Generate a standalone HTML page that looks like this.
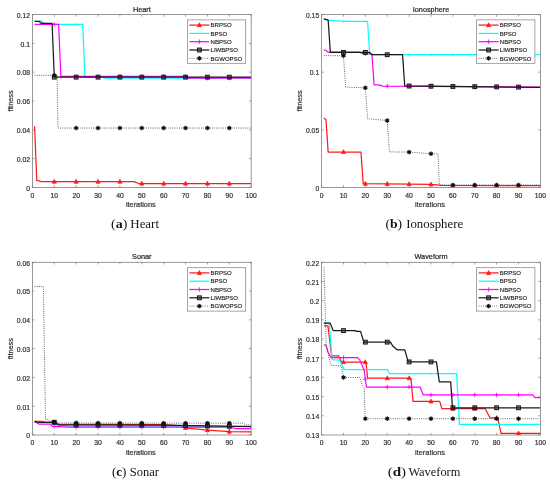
<!DOCTYPE html>
<html><head><meta charset="utf-8"><style>
html,body{margin:0;padding:0;background:#fff;width:550px;height:481px;overflow:hidden}
svg{display:block;will-change:transform}
text{font-family:"Liberation Sans",sans-serif}
.t{fill:#333;stroke:#333;stroke-width:0.2}
.ti{fill:#222;stroke:#222;stroke-width:0.2}
.lb{fill:#333;stroke:#333;stroke-width:0.2}
.lg{fill:#222;stroke:#222;stroke-width:0.15}
.cap{font-family:"Liberation Serif",serif;fill:#151515}
</style></head><body>
<svg width="550" height="481" viewBox="0 0 550 481">
<rect width="550" height="481" fill="#fff"/>
<rect x="32.4" y="14.5" width="218.8" height="172.9" fill="none" stroke="#7f7f7f" stroke-width="0.8"/>
<text class="t" x="32.4" y="197.5" font-size="6.8" text-anchor="middle">0</text>
<text class="t" x="54.28" y="197.5" font-size="6.8" text-anchor="middle">10</text>
<text class="t" x="76.16" y="197.5" font-size="6.8" text-anchor="middle">20</text>
<text class="t" x="98.04" y="197.5" font-size="6.8" text-anchor="middle">30</text>
<text class="t" x="119.92" y="197.5" font-size="6.8" text-anchor="middle">40</text>
<text class="t" x="141.8" y="197.5" font-size="6.8" text-anchor="middle">50</text>
<text class="t" x="163.68" y="197.5" font-size="6.8" text-anchor="middle">60</text>
<text class="t" x="185.56" y="197.5" font-size="6.8" text-anchor="middle">70</text>
<text class="t" x="207.44" y="197.5" font-size="6.8" text-anchor="middle">80</text>
<text class="t" x="229.32" y="197.5" font-size="6.8" text-anchor="middle">90</text>
<text class="t" x="251.2" y="197.5" font-size="6.8" text-anchor="middle">100</text>
<text class="t" x="30" y="190.7" font-size="6.8" text-anchor="end">0</text>
<text class="t" x="30" y="161.88" font-size="6.8" text-anchor="end">0.02</text>
<text class="t" x="30" y="133.07" font-size="6.8" text-anchor="end">0.04</text>
<text class="t" x="30" y="104.25" font-size="6.8" text-anchor="end">0.06</text>
<text class="t" x="30" y="75.43" font-size="6.8" text-anchor="end">0.08</text>
<text class="t" x="30" y="46.62" font-size="6.8" text-anchor="end">0.1</text>
<text class="t" x="30" y="17.8" font-size="6.8" text-anchor="end">0.12</text>
<path d="M32.4 187.4V185.2M32.4 14.5V16.7M54.28 187.4V185.2M54.28 14.5V16.7M76.16 187.4V185.2M76.16 14.5V16.7M98.04 187.4V185.2M98.04 14.5V16.7M119.92 187.4V185.2M119.92 14.5V16.7M141.8 187.4V185.2M141.8 14.5V16.7M163.68 187.4V185.2M163.68 14.5V16.7M185.56 187.4V185.2M185.56 14.5V16.7M207.44 187.4V185.2M207.44 14.5V16.7M229.32 187.4V185.2M229.32 14.5V16.7M251.2 187.4V185.2M251.2 14.5V16.7M32.4 187.4H34.6M251.2 187.4H249M32.4 158.58H34.6M251.2 158.58H249M32.4 129.77H34.6M251.2 129.77H249M32.4 100.95H34.6M251.2 100.95H249M32.4 72.13H34.6M251.2 72.13H249M32.4 43.32H34.6M251.2 43.32H249M32.4 14.5H34.6M251.2 14.5H249" stroke="#7f7f7f" stroke-width="0.7" fill="none"/>
<text class="ti" x="141.8" y="11.5" font-size="7.3" text-anchor="middle">Heart</text>
<text class="lb" x="140.8" y="206.9" font-size="7.35" text-anchor="middle">iterations</text>
<text class="lb" x="12.8" y="100.95" font-size="7.35" text-anchor="middle" transform="rotate(-90 12.8 100.95)">fitness</text>
<clipPath id="clipa"><rect x="32.4" y="14.5" width="218.8" height="172.9"/></clipPath>
<g clip-path="url(#clipa)">
<path d="M34.59 126.31 L36.78 180.34 L38.96 180.77 L41.15 181.64 L134.14 181.64 L138.52 183.51 L251.2 183.51" fill="none" stroke="#ff1a1a" stroke-width="1.25" stroke-linejoin="round"/>
<path d="M54.28 179.34L56.35 183.25L52.21 183.25Z" fill="#ff1a1a" stroke="#ff1a1a" stroke-width="0.7"/>
<path d="M76.16 179.34L78.23 183.25L74.09 183.25Z" fill="#ff1a1a" stroke="#ff1a1a" stroke-width="0.7"/>
<path d="M98.04 179.34L100.11 183.25L95.97 183.25Z" fill="#ff1a1a" stroke="#ff1a1a" stroke-width="0.7"/>
<path d="M119.92 179.34L121.99 183.25L117.85 183.25Z" fill="#ff1a1a" stroke="#ff1a1a" stroke-width="0.7"/>
<path d="M141.8 181.21L143.87 185.12L139.73 185.12Z" fill="#ff1a1a" stroke="#ff1a1a" stroke-width="0.7"/>
<path d="M163.68 181.21L165.75 185.12L161.61 185.12Z" fill="#ff1a1a" stroke="#ff1a1a" stroke-width="0.7"/>
<path d="M185.56 181.21L187.63 185.12L183.49 185.12Z" fill="#ff1a1a" stroke="#ff1a1a" stroke-width="0.7"/>
<path d="M207.44 181.21L209.51 185.12L205.37 185.12Z" fill="#ff1a1a" stroke="#ff1a1a" stroke-width="0.7"/>
<path d="M229.32 181.21L231.39 185.12L227.25 185.12Z" fill="#ff1a1a" stroke="#ff1a1a" stroke-width="0.7"/>
<path d="M34.59 21.27 L38.96 21.27 L41.15 20.84 L43.34 22.42 L45.53 24.44 L82.72 24.44 L84.91 77.18 L102.42 77.18 L104.6 78.18 L251.2 78.18" fill="none" stroke="#00ffff" stroke-width="1.25" stroke-linejoin="round"/>
<circle cx="54.28" cy="24.44" r="0.9" fill="#00ffff"/>
<circle cx="76.16" cy="24.44" r="0.9" fill="#00ffff"/>
<circle cx="98.04" cy="77.18" r="0.9" fill="#00ffff"/>
<circle cx="119.92" cy="78.18" r="0.9" fill="#00ffff"/>
<circle cx="141.8" cy="78.18" r="0.9" fill="#00ffff"/>
<circle cx="163.68" cy="78.18" r="0.9" fill="#00ffff"/>
<circle cx="185.56" cy="78.18" r="0.9" fill="#00ffff"/>
<circle cx="207.44" cy="78.18" r="0.9" fill="#00ffff"/>
<circle cx="229.32" cy="78.18" r="0.9" fill="#00ffff"/>
<path d="M34.59 24.44 L58.66 24.44 L60.84 76.46 L185.56 76.46 L187.75 78.18 L251.2 78.18" fill="none" stroke="#ff00ff" stroke-width="1.25" stroke-linejoin="round"/>
<path d="M54.28 22.24V26.64M52.08 24.44H56.48" stroke="#ff00ff" stroke-width="0.9"/>
<path d="M76.16 74.26V78.66M73.96 76.46H78.36" stroke="#ff00ff" stroke-width="0.9"/>
<path d="M98.04 74.26V78.66M95.84 76.46H100.24" stroke="#ff00ff" stroke-width="0.9"/>
<path d="M119.92 74.26V78.66M117.72 76.46H122.12" stroke="#ff00ff" stroke-width="0.9"/>
<path d="M141.8 74.26V78.66M139.6 76.46H144" stroke="#ff00ff" stroke-width="0.9"/>
<path d="M163.68 74.26V78.66M161.48 76.46H165.88" stroke="#ff00ff" stroke-width="0.9"/>
<path d="M185.56 74.26V78.66M183.36 76.46H187.76" stroke="#ff00ff" stroke-width="0.9"/>
<path d="M207.44 75.98V80.38M205.24 78.18H209.64" stroke="#ff00ff" stroke-width="0.9"/>
<path d="M229.32 75.98V80.38M227.12 78.18H231.52" stroke="#ff00ff" stroke-width="0.9"/>
<path d="M34.59 21.27 L38.96 21.27 L41.15 23.29 L52.09 23.29 L54.28 77.18 L251.2 77.18" fill="none" stroke="#1a1a1a" stroke-width="1.25" stroke-linejoin="round"/>
<rect x="52.38" y="75.28" width="3.8" height="3.8" fill="#000" fill-opacity="0.35" stroke="#1a1a1a" stroke-width="1.05"/>
<rect x="74.26" y="75.28" width="3.8" height="3.8" fill="#000" fill-opacity="0.35" stroke="#1a1a1a" stroke-width="1.05"/>
<rect x="96.14" y="75.28" width="3.8" height="3.8" fill="#000" fill-opacity="0.35" stroke="#1a1a1a" stroke-width="1.05"/>
<rect x="118.02" y="75.28" width="3.8" height="3.8" fill="#000" fill-opacity="0.35" stroke="#1a1a1a" stroke-width="1.05"/>
<rect x="139.9" y="75.28" width="3.8" height="3.8" fill="#000" fill-opacity="0.35" stroke="#1a1a1a" stroke-width="1.05"/>
<rect x="161.78" y="75.28" width="3.8" height="3.8" fill="#000" fill-opacity="0.35" stroke="#1a1a1a" stroke-width="1.05"/>
<rect x="183.66" y="75.28" width="3.8" height="3.8" fill="#000" fill-opacity="0.35" stroke="#1a1a1a" stroke-width="1.05"/>
<rect x="205.54" y="75.28" width="3.8" height="3.8" fill="#000" fill-opacity="0.35" stroke="#1a1a1a" stroke-width="1.05"/>
<rect x="227.42" y="75.28" width="3.8" height="3.8" fill="#000" fill-opacity="0.35" stroke="#1a1a1a" stroke-width="1.05"/>
<path d="M34.59 75.3 L54.28 75.3 L57.12 75.74 L58 128.04 L251.2 128.04" fill="none" stroke="#444" stroke-width="0.9" stroke-linejoin="round" stroke-dasharray="0.9 1.3"/>
<path d="M54.28 73.1 L53.51 73.97 L52.37 74.2 L52.74 75.3 L52.37 76.4 L53.51 76.64 L54.28 77.5 L55.05 76.64 L56.19 76.4 L55.82 75.3 L56.19 74.2 L55.05 73.97Z" fill="#111" stroke="#111" stroke-width="0.5"/>
<path d="M76.16 125.84 L75.39 126.7 L74.25 126.94 L74.62 128.04 L74.25 129.14 L75.39 129.37 L76.16 130.24 L76.93 129.37 L78.07 129.14 L77.7 128.04 L78.07 126.94 L76.93 126.7Z" fill="#111" stroke="#111" stroke-width="0.5"/>
<path d="M98.04 125.84 L97.27 126.7 L96.13 126.94 L96.5 128.04 L96.13 129.14 L97.27 129.37 L98.04 130.24 L98.81 129.37 L99.95 129.14 L99.58 128.04 L99.95 126.94 L98.81 126.7Z" fill="#111" stroke="#111" stroke-width="0.5"/>
<path d="M119.92 125.84 L119.15 126.7 L118.01 126.94 L118.38 128.04 L118.01 129.14 L119.15 129.37 L119.92 130.24 L120.69 129.37 L121.83 129.14 L121.46 128.04 L121.83 126.94 L120.69 126.7Z" fill="#111" stroke="#111" stroke-width="0.5"/>
<path d="M141.8 125.84 L141.03 126.7 L139.89 126.94 L140.26 128.04 L139.89 129.14 L141.03 129.37 L141.8 130.24 L142.57 129.37 L143.71 129.14 L143.34 128.04 L143.71 126.94 L142.57 126.7Z" fill="#111" stroke="#111" stroke-width="0.5"/>
<path d="M163.68 125.84 L162.91 126.7 L161.77 126.94 L162.14 128.04 L161.77 129.14 L162.91 129.37 L163.68 130.24 L164.45 129.37 L165.59 129.14 L165.22 128.04 L165.59 126.94 L164.45 126.7Z" fill="#111" stroke="#111" stroke-width="0.5"/>
<path d="M185.56 125.84 L184.79 126.7 L183.65 126.94 L184.02 128.04 L183.65 129.14 L184.79 129.37 L185.56 130.24 L186.33 129.37 L187.47 129.14 L187.1 128.04 L187.47 126.94 L186.33 126.7Z" fill="#111" stroke="#111" stroke-width="0.5"/>
<path d="M207.44 125.84 L206.67 126.7 L205.53 126.94 L205.9 128.04 L205.53 129.14 L206.67 129.37 L207.44 130.24 L208.21 129.37 L209.35 129.14 L208.98 128.04 L209.35 126.94 L208.21 126.7Z" fill="#111" stroke="#111" stroke-width="0.5"/>
<path d="M229.32 125.84 L228.55 126.7 L227.41 126.94 L227.78 128.04 L227.41 129.14 L228.55 129.37 L229.32 130.24 L230.09 129.37 L231.23 129.14 L230.86 128.04 L231.23 126.94 L230.09 126.7Z" fill="#111" stroke="#111" stroke-width="0.5"/>
</g>
<rect x="187.4" y="19.9" width="58.3" height="43.4" fill="#fff" stroke="#7f7f7f" stroke-width="0.7"/>
<path d="M189.4 25.1H209.4" stroke="#ff1a1a" stroke-width="1.25"/>
<path d="M199.4 22.8L201.47 26.71L197.33 26.71Z" fill="#ff1a1a" stroke="#ff1a1a" stroke-width="0.7"/>
<text class="lg" x="210.6" y="27.3" font-size="6.0" text-anchor="start">BRPSO</text>
<path d="M189.4 33.4H209.4" stroke="#00ffff" stroke-width="1.25"/>
<text class="lg" x="210.6" y="35.6" font-size="6.0" text-anchor="start">BPSO</text>
<path d="M189.4 41.7H209.4" stroke="#ff00ff" stroke-width="1.25"/>
<path d="M199.4 39.5V43.9M197.2 41.7H201.6" stroke="#ff00ff" stroke-width="0.9"/>
<text class="lg" x="210.6" y="43.9" font-size="6.0" text-anchor="start">NBPSO</text>
<path d="M189.4 50H209.4" stroke="#1a1a1a" stroke-width="1.25"/>
<rect x="197.5" y="48.1" width="3.8" height="3.8" fill="#000" fill-opacity="0.35" stroke="#1a1a1a" stroke-width="1.05"/>
<text class="lg" x="210.6" y="52.2" font-size="6.0" text-anchor="start">LIWBPSO</text>
<path d="M189.4 58.3H209.4" stroke="#444" stroke-width="0.8" stroke-dasharray="0.9 1.3"/>
<path d="M199.4 56.1 L198.63 56.97 L197.49 57.2 L197.86 58.3 L197.49 59.4 L198.63 59.63 L199.4 60.5 L200.17 59.63 L201.31 59.4 L200.94 58.3 L201.31 57.2 L200.17 56.97Z" fill="#111" stroke="#111" stroke-width="0.5"/>
<text class="lg" x="210.6" y="60.5" font-size="6.0" text-anchor="start">BGWOPSO</text>
<text class="cap" x="111" y="227.8" font-size="12.8" textLength="16.3" lengthAdjust="spacingAndGlyphs">(<tspan font-weight="bold">a</tspan>)</text>
<text class="cap" x="130.3" y="227.8" font-size="12" textLength="28.7" lengthAdjust="spacingAndGlyphs">Heart</text>
<rect x="321.6" y="14.5" width="218.8" height="172.9" fill="none" stroke="#7f7f7f" stroke-width="0.8"/>
<text class="t" x="321.6" y="197.5" font-size="6.8" text-anchor="middle">0</text>
<text class="t" x="343.48" y="197.5" font-size="6.8" text-anchor="middle">10</text>
<text class="t" x="365.36" y="197.5" font-size="6.8" text-anchor="middle">20</text>
<text class="t" x="387.24" y="197.5" font-size="6.8" text-anchor="middle">30</text>
<text class="t" x="409.12" y="197.5" font-size="6.8" text-anchor="middle">40</text>
<text class="t" x="431" y="197.5" font-size="6.8" text-anchor="middle">50</text>
<text class="t" x="452.88" y="197.5" font-size="6.8" text-anchor="middle">60</text>
<text class="t" x="474.76" y="197.5" font-size="6.8" text-anchor="middle">70</text>
<text class="t" x="496.64" y="197.5" font-size="6.8" text-anchor="middle">80</text>
<text class="t" x="518.52" y="197.5" font-size="6.8" text-anchor="middle">90</text>
<text class="t" x="540.4" y="197.5" font-size="6.8" text-anchor="middle">100</text>
<text class="t" x="319.2" y="190.7" font-size="6.8" text-anchor="end">0</text>
<text class="t" x="319.2" y="133.07" font-size="6.8" text-anchor="end">0.05</text>
<text class="t" x="319.2" y="75.43" font-size="6.8" text-anchor="end">0.1</text>
<text class="t" x="319.2" y="17.8" font-size="6.8" text-anchor="end">0.15</text>
<path d="M321.6 187.4V185.2M321.6 14.5V16.7M343.48 187.4V185.2M343.48 14.5V16.7M365.36 187.4V185.2M365.36 14.5V16.7M387.24 187.4V185.2M387.24 14.5V16.7M409.12 187.4V185.2M409.12 14.5V16.7M431 187.4V185.2M431 14.5V16.7M452.88 187.4V185.2M452.88 14.5V16.7M474.76 187.4V185.2M474.76 14.5V16.7M496.64 187.4V185.2M496.64 14.5V16.7M518.52 187.4V185.2M518.52 14.5V16.7M540.4 187.4V185.2M540.4 14.5V16.7M321.6 187.4H323.8M540.4 187.4H538.2M321.6 129.77H323.8M540.4 129.77H538.2M321.6 72.13H323.8M540.4 72.13H538.2M321.6 14.5H323.8M540.4 14.5H538.2" stroke="#7f7f7f" stroke-width="0.7" fill="none"/>
<text class="ti" x="431" y="11.5" font-size="7.3" text-anchor="middle">Ionosphere</text>
<text class="lb" x="430" y="206.9" font-size="7.35" text-anchor="middle">iterations</text>
<text class="lb" x="302" y="100.95" font-size="7.35" text-anchor="middle" transform="rotate(-90 302 100.95)">fitness</text>
<clipPath id="clipb"><rect x="321.6" y="14.5" width="218.8" height="172.9"/></clipPath>
<g clip-path="url(#clipb)">
<path d="M323.79 118.24 L325.98 119.74 L328.16 152.01 L360.98 152.01 L363.17 183.71 L409.12 184.06 L431 184.29 L441.94 185.44 L540.4 185.56" fill="none" stroke="#ff1a1a" stroke-width="1.25" stroke-linejoin="round"/>
<path d="M343.48 149.71L345.55 153.62L341.41 153.62Z" fill="#ff1a1a" stroke="#ff1a1a" stroke-width="0.7"/>
<path d="M365.36 181.43L367.43 185.34L363.29 185.34Z" fill="#ff1a1a" stroke="#ff1a1a" stroke-width="0.7"/>
<path d="M387.24 181.59L389.31 185.5L385.17 185.5Z" fill="#ff1a1a" stroke="#ff1a1a" stroke-width="0.7"/>
<path d="M409.12 181.76L411.19 185.67L407.05 185.67Z" fill="#ff1a1a" stroke="#ff1a1a" stroke-width="0.7"/>
<path d="M431 181.99L433.07 185.9L428.93 185.9Z" fill="#ff1a1a" stroke="#ff1a1a" stroke-width="0.7"/>
<path d="M452.88 183.15L454.95 187.06L450.81 187.06Z" fill="#ff1a1a" stroke="#ff1a1a" stroke-width="0.7"/>
<path d="M474.76 183.18L476.83 187.09L472.69 187.09Z" fill="#ff1a1a" stroke="#ff1a1a" stroke-width="0.7"/>
<path d="M496.64 183.2L498.71 187.11L494.57 187.11Z" fill="#ff1a1a" stroke="#ff1a1a" stroke-width="0.7"/>
<path d="M518.52 183.23L520.59 187.14L516.45 187.14Z" fill="#ff1a1a" stroke="#ff1a1a" stroke-width="0.7"/>
<path d="M323.79 18.88 L328.16 20.03 L343.48 21.42 L367.55 21.42 L369.74 53.81 L371.92 54.73 L540.4 54.73" fill="none" stroke="#00ffff" stroke-width="1.25" stroke-linejoin="round"/>
<circle cx="343.48" cy="21.42" r="0.9" fill="#00ffff"/>
<circle cx="365.36" cy="21.42" r="0.9" fill="#00ffff"/>
<circle cx="387.24" cy="54.73" r="0.9" fill="#00ffff"/>
<circle cx="409.12" cy="54.73" r="0.9" fill="#00ffff"/>
<circle cx="431" cy="54.73" r="0.9" fill="#00ffff"/>
<circle cx="452.88" cy="54.73" r="0.9" fill="#00ffff"/>
<circle cx="474.76" cy="54.73" r="0.9" fill="#00ffff"/>
<circle cx="496.64" cy="54.73" r="0.9" fill="#00ffff"/>
<circle cx="518.52" cy="54.73" r="0.9" fill="#00ffff"/>
<path d="M323.79 50 L325.98 50.46 L328.16 52.19 L358.8 52.19 L363.17 53.58 L371.92 53.92 L374.11 84.93 L378.49 84.93 L382.86 86.2 L540.4 87" fill="none" stroke="#ff00ff" stroke-width="1.25" stroke-linejoin="round"/>
<path d="M343.48 49.99V54.39M341.28 52.19H345.68" stroke="#ff00ff" stroke-width="0.9"/>
<path d="M365.36 51.46V55.86M363.16 53.66H367.56" stroke="#ff00ff" stroke-width="0.9"/>
<path d="M387.24 84.02V88.42M385.04 86.22H389.44" stroke="#ff00ff" stroke-width="0.9"/>
<path d="M409.12 84.13V88.53M406.92 86.33H411.32" stroke="#ff00ff" stroke-width="0.9"/>
<path d="M431 84.24V88.64M428.8 86.44H433.2" stroke="#ff00ff" stroke-width="0.9"/>
<path d="M452.88 84.35V88.75M450.68 86.55H455.08" stroke="#ff00ff" stroke-width="0.9"/>
<path d="M474.76 84.47V88.87M472.56 86.67H476.96" stroke="#ff00ff" stroke-width="0.9"/>
<path d="M496.64 84.58V88.98M494.44 86.78H498.84" stroke="#ff00ff" stroke-width="0.9"/>
<path d="M518.52 84.69V89.09M516.32 86.89H520.72" stroke="#ff00ff" stroke-width="0.9"/>
<path d="M323.79 18.88 L328.16 20.03 L330.35 52.42 L369.74 52.42 L371.92 54.73 L402.56 54.73 L404.74 85.97 L540.4 87.35" fill="none" stroke="#1a1a1a" stroke-width="1.25" stroke-linejoin="round"/>
<rect x="341.58" y="50.52" width="3.8" height="3.8" fill="#000" fill-opacity="0.35" stroke="#1a1a1a" stroke-width="1.05"/>
<rect x="363.46" y="50.52" width="3.8" height="3.8" fill="#000" fill-opacity="0.35" stroke="#1a1a1a" stroke-width="1.05"/>
<rect x="385.34" y="52.83" width="3.8" height="3.8" fill="#000" fill-opacity="0.35" stroke="#1a1a1a" stroke-width="1.05"/>
<rect x="407.22" y="84.11" width="3.8" height="3.8" fill="#000" fill-opacity="0.35" stroke="#1a1a1a" stroke-width="1.05"/>
<rect x="429.1" y="84.33" width="3.8" height="3.8" fill="#000" fill-opacity="0.35" stroke="#1a1a1a" stroke-width="1.05"/>
<rect x="450.98" y="84.56" width="3.8" height="3.8" fill="#000" fill-opacity="0.35" stroke="#1a1a1a" stroke-width="1.05"/>
<rect x="472.86" y="84.78" width="3.8" height="3.8" fill="#000" fill-opacity="0.35" stroke="#1a1a1a" stroke-width="1.05"/>
<rect x="494.74" y="85" width="3.8" height="3.8" fill="#000" fill-opacity="0.35" stroke="#1a1a1a" stroke-width="1.05"/>
<rect x="516.62" y="85.23" width="3.8" height="3.8" fill="#000" fill-opacity="0.35" stroke="#1a1a1a" stroke-width="1.05"/>
<path d="M323.79 55.65 L343.48 55.65 L345.67 87.12 L365.36 87.81 L367.55 118.7 L387.24 120.55 L389.43 151.9 L409.12 152.13 L431 153.74 L438 153.74 L439.31 184.98 L540.4 184.98" fill="none" stroke="#444" stroke-width="0.9" stroke-linejoin="round" stroke-dasharray="0.9 1.3"/>
<path d="M343.48 53.45 L342.71 54.32 L341.57 54.55 L341.94 55.65 L341.57 56.75 L342.71 56.98 L343.48 57.85 L344.25 56.98 L345.39 56.75 L345.02 55.65 L345.39 54.55 L344.25 54.32Z" fill="#111" stroke="#111" stroke-width="0.5"/>
<path d="M365.36 85.61 L364.59 86.48 L363.45 86.71 L363.82 87.81 L363.45 88.91 L364.59 89.14 L365.36 90.01 L366.13 89.14 L367.27 88.91 L366.9 87.81 L367.27 86.71 L366.13 86.48Z" fill="#111" stroke="#111" stroke-width="0.5"/>
<path d="M387.24 118.35 L386.47 119.21 L385.33 119.45 L385.7 120.55 L385.33 121.65 L386.47 121.88 L387.24 122.75 L388.01 121.88 L389.15 121.65 L388.78 120.55 L389.15 119.45 L388.01 119.21Z" fill="#111" stroke="#111" stroke-width="0.5"/>
<path d="M409.12 149.93 L408.35 150.79 L407.21 151.03 L407.58 152.13 L407.21 153.23 L408.35 153.46 L409.12 154.33 L409.89 153.46 L411.03 153.23 L410.66 152.13 L411.03 151.03 L409.89 150.79Z" fill="#111" stroke="#111" stroke-width="0.5"/>
<path d="M431 151.54 L430.23 152.41 L429.09 152.64 L429.46 153.74 L429.09 154.84 L430.23 155.08 L431 155.94 L431.77 155.08 L432.91 154.84 L432.54 153.74 L432.91 152.64 L431.77 152.41Z" fill="#111" stroke="#111" stroke-width="0.5"/>
<path d="M452.88 182.78 L452.11 183.65 L450.97 183.88 L451.34 184.98 L450.97 186.08 L452.11 186.31 L452.88 187.18 L453.65 186.31 L454.79 186.08 L454.42 184.98 L454.79 183.88 L453.65 183.65Z" fill="#111" stroke="#111" stroke-width="0.5"/>
<path d="M474.76 182.78 L473.99 183.65 L472.85 183.88 L473.22 184.98 L472.85 186.08 L473.99 186.31 L474.76 187.18 L475.53 186.31 L476.67 186.08 L476.3 184.98 L476.67 183.88 L475.53 183.65Z" fill="#111" stroke="#111" stroke-width="0.5"/>
<path d="M496.64 182.78 L495.87 183.65 L494.73 183.88 L495.1 184.98 L494.73 186.08 L495.87 186.31 L496.64 187.18 L497.41 186.31 L498.55 186.08 L498.18 184.98 L498.55 183.88 L497.41 183.65Z" fill="#111" stroke="#111" stroke-width="0.5"/>
<path d="M518.52 182.78 L517.75 183.65 L516.61 183.88 L516.98 184.98 L516.61 186.08 L517.75 186.31 L518.52 187.18 L519.29 186.31 L520.43 186.08 L520.06 184.98 L520.43 183.88 L519.29 183.65Z" fill="#111" stroke="#111" stroke-width="0.5"/>
</g>
<rect x="476.6" y="19.9" width="58.3" height="43.4" fill="#fff" stroke="#7f7f7f" stroke-width="0.7"/>
<path d="M478.6 25.1H498.6" stroke="#ff1a1a" stroke-width="1.25"/>
<path d="M488.6 22.8L490.67 26.71L486.53 26.71Z" fill="#ff1a1a" stroke="#ff1a1a" stroke-width="0.7"/>
<text class="lg" x="499.8" y="27.3" font-size="6.0" text-anchor="start">BRPSO</text>
<path d="M478.6 33.4H498.6" stroke="#00ffff" stroke-width="1.25"/>
<text class="lg" x="499.8" y="35.6" font-size="6.0" text-anchor="start">BPSO</text>
<path d="M478.6 41.7H498.6" stroke="#ff00ff" stroke-width="1.25"/>
<path d="M488.6 39.5V43.9M486.4 41.7H490.8" stroke="#ff00ff" stroke-width="0.9"/>
<text class="lg" x="499.8" y="43.9" font-size="6.0" text-anchor="start">NBPSO</text>
<path d="M478.6 50H498.6" stroke="#1a1a1a" stroke-width="1.25"/>
<rect x="486.7" y="48.1" width="3.8" height="3.8" fill="#000" fill-opacity="0.35" stroke="#1a1a1a" stroke-width="1.05"/>
<text class="lg" x="499.8" y="52.2" font-size="6.0" text-anchor="start">LIWBPSO</text>
<path d="M478.6 58.3H498.6" stroke="#444" stroke-width="0.8" stroke-dasharray="0.9 1.3"/>
<path d="M488.6 56.1 L487.83 56.97 L486.69 57.2 L487.06 58.3 L486.69 59.4 L487.83 59.63 L488.6 60.5 L489.37 59.63 L490.51 59.4 L490.14 58.3 L490.51 57.2 L489.37 56.97Z" fill="#111" stroke="#111" stroke-width="0.5"/>
<text class="lg" x="499.8" y="60.5" font-size="6.0" text-anchor="start">BGWOPSO</text>
<text class="cap" x="385.4" y="228" font-size="12.8" textLength="16.8" lengthAdjust="spacingAndGlyphs">(<tspan font-weight="bold">b</tspan>)</text>
<text class="cap" x="406.2" y="228" font-size="12" textLength="57" lengthAdjust="spacingAndGlyphs">Ionosphere</text>
<rect x="32.4" y="262.3" width="218.8" height="172.7" fill="none" stroke="#7f7f7f" stroke-width="0.8"/>
<text class="t" x="32.4" y="445.1" font-size="6.8" text-anchor="middle">0</text>
<text class="t" x="54.28" y="445.1" font-size="6.8" text-anchor="middle">10</text>
<text class="t" x="76.16" y="445.1" font-size="6.8" text-anchor="middle">20</text>
<text class="t" x="98.04" y="445.1" font-size="6.8" text-anchor="middle">30</text>
<text class="t" x="119.92" y="445.1" font-size="6.8" text-anchor="middle">40</text>
<text class="t" x="141.8" y="445.1" font-size="6.8" text-anchor="middle">50</text>
<text class="t" x="163.68" y="445.1" font-size="6.8" text-anchor="middle">60</text>
<text class="t" x="185.56" y="445.1" font-size="6.8" text-anchor="middle">70</text>
<text class="t" x="207.44" y="445.1" font-size="6.8" text-anchor="middle">80</text>
<text class="t" x="229.32" y="445.1" font-size="6.8" text-anchor="middle">90</text>
<text class="t" x="251.2" y="445.1" font-size="6.8" text-anchor="middle">100</text>
<text class="t" x="30" y="438.3" font-size="6.8" text-anchor="end">0</text>
<text class="t" x="30" y="409.52" font-size="6.8" text-anchor="end">0.01</text>
<text class="t" x="30" y="380.73" font-size="6.8" text-anchor="end">0.02</text>
<text class="t" x="30" y="351.95" font-size="6.8" text-anchor="end">0.03</text>
<text class="t" x="30" y="323.17" font-size="6.8" text-anchor="end">0.04</text>
<text class="t" x="30" y="294.38" font-size="6.8" text-anchor="end">0.05</text>
<text class="t" x="30" y="265.6" font-size="6.8" text-anchor="end">0.06</text>
<path d="M32.4 435V432.8M32.4 262.3V264.5M54.28 435V432.8M54.28 262.3V264.5M76.16 435V432.8M76.16 262.3V264.5M98.04 435V432.8M98.04 262.3V264.5M119.92 435V432.8M119.92 262.3V264.5M141.8 435V432.8M141.8 262.3V264.5M163.68 435V432.8M163.68 262.3V264.5M185.56 435V432.8M185.56 262.3V264.5M207.44 435V432.8M207.44 262.3V264.5M229.32 435V432.8M229.32 262.3V264.5M251.2 435V432.8M251.2 262.3V264.5M32.4 435H34.6M251.2 435H249M32.4 406.22H34.6M251.2 406.22H249M32.4 377.43H34.6M251.2 377.43H249M32.4 348.65H34.6M251.2 348.65H249M32.4 319.87H34.6M251.2 319.87H249M32.4 291.08H34.6M251.2 291.08H249M32.4 262.3H34.6M251.2 262.3H249" stroke="#7f7f7f" stroke-width="0.7" fill="none"/>
<text class="ti" x="141.8" y="259.3" font-size="7.3" text-anchor="middle">Sonar</text>
<text class="lb" x="140.8" y="454.5" font-size="7.35" text-anchor="middle">iterations</text>
<text class="lb" x="12.8" y="348.65" font-size="7.35" text-anchor="middle" transform="rotate(-90 12.8 348.65)">fitness</text>
<clipPath id="clipc"><rect x="32.4" y="262.3" width="218.8" height="172.7"/></clipPath>
<g clip-path="url(#clipc)">
<path d="M34.59 421.47 L43.34 421.47 L45.53 422.34 L54.28 422.34 L58.66 424.06 L163.68 424.64 L176.81 425.5 L185.56 427.8 L207.44 430.11 L229.32 431.55 L251.2 431.83" fill="none" stroke="#ff1a1a" stroke-width="1.25" stroke-linejoin="round"/>
<path d="M54.28 420.04L56.35 423.95L52.21 423.95Z" fill="#ff1a1a" stroke="#ff1a1a" stroke-width="0.7"/>
<path d="M76.16 421.86L78.23 425.77L74.09 425.77Z" fill="#ff1a1a" stroke="#ff1a1a" stroke-width="0.7"/>
<path d="M98.04 421.98L100.11 425.89L95.97 425.89Z" fill="#ff1a1a" stroke="#ff1a1a" stroke-width="0.7"/>
<path d="M119.92 422.1L121.99 426.01L117.85 426.01Z" fill="#ff1a1a" stroke="#ff1a1a" stroke-width="0.7"/>
<path d="M141.8 422.22L143.87 426.13L139.73 426.13Z" fill="#ff1a1a" stroke="#ff1a1a" stroke-width="0.7"/>
<path d="M163.68 422.34L165.75 426.25L161.61 426.25Z" fill="#ff1a1a" stroke="#ff1a1a" stroke-width="0.7"/>
<path d="M185.56 425.5L187.63 429.41L183.49 429.41Z" fill="#ff1a1a" stroke="#ff1a1a" stroke-width="0.7"/>
<path d="M207.44 427.81L209.51 431.72L205.37 431.72Z" fill="#ff1a1a" stroke="#ff1a1a" stroke-width="0.7"/>
<path d="M229.32 429.25L231.39 433.16L227.25 433.16Z" fill="#ff1a1a" stroke="#ff1a1a" stroke-width="0.7"/>
<path d="M34.59 422.05 L49.9 422.34 L52.09 424.64 L67.41 426.08 L251.2 426.37" fill="none" stroke="#00ffff" stroke-width="1.25" stroke-linejoin="round"/>
<circle cx="54.28" cy="424.84" r="0.9" fill="#00ffff"/>
<circle cx="76.16" cy="426.09" r="0.9" fill="#00ffff"/>
<circle cx="98.04" cy="426.13" r="0.9" fill="#00ffff"/>
<circle cx="119.92" cy="426.16" r="0.9" fill="#00ffff"/>
<circle cx="141.8" cy="426.19" r="0.9" fill="#00ffff"/>
<circle cx="163.68" cy="426.23" r="0.9" fill="#00ffff"/>
<circle cx="185.56" cy="426.26" r="0.9" fill="#00ffff"/>
<circle cx="207.44" cy="426.3" r="0.9" fill="#00ffff"/>
<circle cx="229.32" cy="426.33" r="0.9" fill="#00ffff"/>
<path d="M34.59 421.76 L38.96 424.06 L49.9 424.06 L52.09 426.37 L69.6 427.23 L229.32 427.23 L235.88 428.67 L251.2 428.67" fill="none" stroke="#ff00ff" stroke-width="1.25" stroke-linejoin="round"/>
<path d="M54.28 424.27V428.67M52.08 426.47H56.48" stroke="#ff00ff" stroke-width="0.9"/>
<path d="M76.16 425.03V429.43M73.96 427.23H78.36" stroke="#ff00ff" stroke-width="0.9"/>
<path d="M98.04 425.03V429.43M95.84 427.23H100.24" stroke="#ff00ff" stroke-width="0.9"/>
<path d="M119.92 425.03V429.43M117.72 427.23H122.12" stroke="#ff00ff" stroke-width="0.9"/>
<path d="M141.8 425.03V429.43M139.6 427.23H144" stroke="#ff00ff" stroke-width="0.9"/>
<path d="M163.68 425.03V429.43M161.48 427.23H165.88" stroke="#ff00ff" stroke-width="0.9"/>
<path d="M185.56 425.03V429.43M183.36 427.23H187.76" stroke="#ff00ff" stroke-width="0.9"/>
<path d="M207.44 425.03V429.43M205.24 427.23H209.64" stroke="#ff00ff" stroke-width="0.9"/>
<path d="M229.32 425.03V429.43M227.12 427.23H231.52" stroke="#ff00ff" stroke-width="0.9"/>
<path d="M34.59 421.47 L38.96 422.34 L54.28 422.34 L58.66 424.93 L163.68 425.21 L251.2 426.65" fill="none" stroke="#1a1a1a" stroke-width="1.25" stroke-linejoin="round"/>
<rect x="52.38" y="420.44" width="3.8" height="3.8" fill="#000" fill-opacity="0.35" stroke="#1a1a1a" stroke-width="1.05"/>
<rect x="74.26" y="423.07" width="3.8" height="3.8" fill="#000" fill-opacity="0.35" stroke="#1a1a1a" stroke-width="1.05"/>
<rect x="96.14" y="423.13" width="3.8" height="3.8" fill="#000" fill-opacity="0.35" stroke="#1a1a1a" stroke-width="1.05"/>
<rect x="118.02" y="423.19" width="3.8" height="3.8" fill="#000" fill-opacity="0.35" stroke="#1a1a1a" stroke-width="1.05"/>
<rect x="139.9" y="423.25" width="3.8" height="3.8" fill="#000" fill-opacity="0.35" stroke="#1a1a1a" stroke-width="1.05"/>
<rect x="161.78" y="423.31" width="3.8" height="3.8" fill="#000" fill-opacity="0.35" stroke="#1a1a1a" stroke-width="1.05"/>
<rect x="183.66" y="423.67" width="3.8" height="3.8" fill="#000" fill-opacity="0.35" stroke="#1a1a1a" stroke-width="1.05"/>
<rect x="205.54" y="424.03" width="3.8" height="3.8" fill="#000" fill-opacity="0.35" stroke="#1a1a1a" stroke-width="1.05"/>
<rect x="227.42" y="424.39" width="3.8" height="3.8" fill="#000" fill-opacity="0.35" stroke="#1a1a1a" stroke-width="1.05"/>
<path d="M34.59 286.48 L43.34 286.48 L45.53 419.46 L47.72 419.74 L49.9 420.9 L54.28 422.05 L58.66 422.91 L242.45 423.2 L246.82 424.93 L251.2 424.93" fill="none" stroke="#444" stroke-width="0.9" stroke-linejoin="round" stroke-dasharray="0.9 1.3"/>
<path d="M54.28 419.85 L53.51 420.71 L52.37 420.95 L52.74 422.05 L52.37 423.15 L53.51 423.38 L54.28 424.25 L55.05 423.38 L56.19 423.15 L55.82 422.05 L56.19 420.95 L55.05 420.71Z" fill="#111" stroke="#111" stroke-width="0.5"/>
<path d="M76.16 420.74 L75.39 421.6 L74.25 421.84 L74.62 422.94 L74.25 424.04 L75.39 424.27 L76.16 425.14 L76.93 424.27 L78.07 424.04 L77.7 422.94 L78.07 421.84 L76.93 421.6Z" fill="#111" stroke="#111" stroke-width="0.5"/>
<path d="M98.04 420.77 L97.27 421.64 L96.13 421.87 L96.5 422.97 L96.13 424.07 L97.27 424.31 L98.04 425.17 L98.81 424.31 L99.95 424.07 L99.58 422.97 L99.95 421.87 L98.81 421.64Z" fill="#111" stroke="#111" stroke-width="0.5"/>
<path d="M119.92 420.81 L119.15 421.67 L118.01 421.91 L118.38 423.01 L118.01 424.11 L119.15 424.34 L119.92 425.21 L120.69 424.34 L121.83 424.11 L121.46 423.01 L121.83 421.91 L120.69 421.67Z" fill="#111" stroke="#111" stroke-width="0.5"/>
<path d="M141.8 420.84 L141.03 421.71 L139.89 421.94 L140.26 423.04 L139.89 424.14 L141.03 424.37 L141.8 425.24 L142.57 424.37 L143.71 424.14 L143.34 423.04 L143.71 421.94 L142.57 421.71Z" fill="#111" stroke="#111" stroke-width="0.5"/>
<path d="M163.68 420.88 L162.91 421.74 L161.77 421.98 L162.14 423.08 L161.77 424.18 L162.91 424.41 L163.68 425.28 L164.45 424.41 L165.59 424.18 L165.22 423.08 L165.59 421.98 L164.45 421.74Z" fill="#111" stroke="#111" stroke-width="0.5"/>
<path d="M185.56 420.91 L184.79 421.78 L183.65 422.01 L184.02 423.11 L183.65 424.21 L184.79 424.44 L185.56 425.31 L186.33 424.44 L187.47 424.21 L187.1 423.11 L187.47 422.01 L186.33 421.78Z" fill="#111" stroke="#111" stroke-width="0.5"/>
<path d="M207.44 420.94 L206.67 421.81 L205.53 422.04 L205.9 423.14 L205.53 424.24 L206.67 424.48 L207.44 425.34 L208.21 424.48 L209.35 424.24 L208.98 423.14 L209.35 422.04 L208.21 421.81Z" fill="#111" stroke="#111" stroke-width="0.5"/>
<path d="M229.32 420.98 L228.55 421.84 L227.41 422.08 L227.78 423.18 L227.41 424.28 L228.55 424.51 L229.32 425.38 L230.09 424.51 L231.23 424.28 L230.86 423.18 L231.23 422.08 L230.09 421.84Z" fill="#111" stroke="#111" stroke-width="0.5"/>
</g>
<rect x="187.4" y="267.7" width="58.3" height="43.4" fill="#fff" stroke="#7f7f7f" stroke-width="0.7"/>
<path d="M189.4 272.9H209.4" stroke="#ff1a1a" stroke-width="1.25"/>
<path d="M199.4 270.6L201.47 274.51L197.33 274.51Z" fill="#ff1a1a" stroke="#ff1a1a" stroke-width="0.7"/>
<text class="lg" x="210.6" y="275.1" font-size="6.0" text-anchor="start">BRPSO</text>
<path d="M189.4 281.2H209.4" stroke="#00ffff" stroke-width="1.25"/>
<text class="lg" x="210.6" y="283.4" font-size="6.0" text-anchor="start">BPSO</text>
<path d="M189.4 289.5H209.4" stroke="#ff00ff" stroke-width="1.25"/>
<path d="M199.4 287.3V291.7M197.2 289.5H201.6" stroke="#ff00ff" stroke-width="0.9"/>
<text class="lg" x="210.6" y="291.7" font-size="6.0" text-anchor="start">NBPSO</text>
<path d="M189.4 297.8H209.4" stroke="#1a1a1a" stroke-width="1.25"/>
<rect x="197.5" y="295.9" width="3.8" height="3.8" fill="#000" fill-opacity="0.35" stroke="#1a1a1a" stroke-width="1.05"/>
<text class="lg" x="210.6" y="300" font-size="6.0" text-anchor="start">LIWBPSO</text>
<path d="M189.4 306.1H209.4" stroke="#444" stroke-width="0.8" stroke-dasharray="0.9 1.3"/>
<path d="M199.4 303.9 L198.63 304.77 L197.49 305 L197.86 306.1 L197.49 307.2 L198.63 307.43 L199.4 308.3 L200.17 307.43 L201.31 307.2 L200.94 306.1 L201.31 305 L200.17 304.77Z" fill="#111" stroke="#111" stroke-width="0.5"/>
<text class="lg" x="210.6" y="308.3" font-size="6.0" text-anchor="start">BGWOPSO</text>
<text class="cap" x="111.9" y="475.6" font-size="12.8" textLength="14.6" lengthAdjust="spacingAndGlyphs">(<tspan font-weight="bold">c</tspan>)</text>
<text class="cap" x="129.7" y="475.6" font-size="12" textLength="29.2" lengthAdjust="spacingAndGlyphs">Sonar</text>
<rect x="321.6" y="262.3" width="218.8" height="172.7" fill="none" stroke="#7f7f7f" stroke-width="0.8"/>
<text class="t" x="321.6" y="445.1" font-size="6.8" text-anchor="middle">0</text>
<text class="t" x="343.48" y="445.1" font-size="6.8" text-anchor="middle">10</text>
<text class="t" x="365.36" y="445.1" font-size="6.8" text-anchor="middle">20</text>
<text class="t" x="387.24" y="445.1" font-size="6.8" text-anchor="middle">30</text>
<text class="t" x="409.12" y="445.1" font-size="6.8" text-anchor="middle">40</text>
<text class="t" x="431" y="445.1" font-size="6.8" text-anchor="middle">50</text>
<text class="t" x="452.88" y="445.1" font-size="6.8" text-anchor="middle">60</text>
<text class="t" x="474.76" y="445.1" font-size="6.8" text-anchor="middle">70</text>
<text class="t" x="496.64" y="445.1" font-size="6.8" text-anchor="middle">80</text>
<text class="t" x="518.52" y="445.1" font-size="6.8" text-anchor="middle">90</text>
<text class="t" x="540.4" y="445.1" font-size="6.8" text-anchor="middle">100</text>
<text class="t" x="319.2" y="438.3" font-size="6.8" text-anchor="end">0.13</text>
<text class="t" x="319.2" y="419.11" font-size="6.8" text-anchor="end">0.14</text>
<text class="t" x="319.2" y="399.92" font-size="6.8" text-anchor="end">0.15</text>
<text class="t" x="319.2" y="380.73" font-size="6.8" text-anchor="end">0.16</text>
<text class="t" x="319.2" y="361.54" font-size="6.8" text-anchor="end">0.17</text>
<text class="t" x="319.2" y="342.36" font-size="6.8" text-anchor="end">0.18</text>
<text class="t" x="319.2" y="323.17" font-size="6.8" text-anchor="end">0.19</text>
<text class="t" x="319.2" y="303.98" font-size="6.8" text-anchor="end">0.2</text>
<text class="t" x="319.2" y="284.79" font-size="6.8" text-anchor="end">0.21</text>
<text class="t" x="319.2" y="265.6" font-size="6.8" text-anchor="end">0.22</text>
<path d="M321.6 435V432.8M321.6 262.3V264.5M343.48 435V432.8M343.48 262.3V264.5M365.36 435V432.8M365.36 262.3V264.5M387.24 435V432.8M387.24 262.3V264.5M409.12 435V432.8M409.12 262.3V264.5M431 435V432.8M431 262.3V264.5M452.88 435V432.8M452.88 262.3V264.5M474.76 435V432.8M474.76 262.3V264.5M496.64 435V432.8M496.64 262.3V264.5M518.52 435V432.8M518.52 262.3V264.5M540.4 435V432.8M540.4 262.3V264.5M321.6 435H323.8M540.4 435H538.2M321.6 415.81H323.8M540.4 415.81H538.2M321.6 396.62H323.8M540.4 396.62H538.2M321.6 377.43H323.8M540.4 377.43H538.2M321.6 358.24H323.8M540.4 358.24H538.2M321.6 339.06H323.8M540.4 339.06H538.2M321.6 319.87H323.8M540.4 319.87H538.2M321.6 300.68H323.8M540.4 300.68H538.2M321.6 281.49H323.8M540.4 281.49H538.2M321.6 262.3H323.8M540.4 262.3H538.2" stroke="#7f7f7f" stroke-width="0.7" fill="none"/>
<text class="ti" x="431" y="259.3" font-size="7.3" text-anchor="middle">Waveform</text>
<text class="lb" x="430" y="454.5" font-size="7.35" text-anchor="middle">iterations</text>
<text class="lb" x="302" y="348.65" font-size="7.35" text-anchor="middle" transform="rotate(-90 302 348.65)">fitness</text>
<clipPath id="clipd"><rect x="321.6" y="262.3" width="218.8" height="172.7"/></clipPath>
<g clip-path="url(#clipd)">
<path d="M323.79 325.82 L327.95 325.82 L331.66 355.94 L338.67 355.94 L341.51 362.08 L366.02 362.08 L367.55 378.2 L410.87 378.2 L413.06 401.42 L439.75 401.42 L441.94 408.71 L485.26 408.71 L490.08 417.92 L497.73 417.92 L501.02 433.27 L540.4 433.27" fill="none" stroke="#ff1a1a" stroke-width="1.25" stroke-linejoin="round"/>
<path d="M343.48 359.78L345.55 363.69L341.41 363.69Z" fill="#ff1a1a" stroke="#ff1a1a" stroke-width="0.7"/>
<path d="M365.36 359.78L367.43 363.69L363.29 363.69Z" fill="#ff1a1a" stroke="#ff1a1a" stroke-width="0.7"/>
<path d="M387.24 375.9L389.31 379.81L385.17 379.81Z" fill="#ff1a1a" stroke="#ff1a1a" stroke-width="0.7"/>
<path d="M409.12 375.9L411.19 379.81L407.05 379.81Z" fill="#ff1a1a" stroke="#ff1a1a" stroke-width="0.7"/>
<path d="M431 399.12L433.07 403.03L428.93 403.03Z" fill="#ff1a1a" stroke="#ff1a1a" stroke-width="0.7"/>
<path d="M452.88 406.41L454.95 410.32L450.81 410.32Z" fill="#ff1a1a" stroke="#ff1a1a" stroke-width="0.7"/>
<path d="M474.76 406.41L476.83 410.32L472.69 410.32Z" fill="#ff1a1a" stroke="#ff1a1a" stroke-width="0.7"/>
<path d="M496.64 415.62L498.71 419.53L494.57 419.53Z" fill="#ff1a1a" stroke="#ff1a1a" stroke-width="0.7"/>
<path d="M518.52 430.97L520.59 434.88L516.45 434.88Z" fill="#ff1a1a" stroke="#ff1a1a" stroke-width="0.7"/>
<path d="M323.79 323.13 L329.26 323.13 L332.1 359.59 L339.54 360.16 L344.14 369.57 L387.24 369.57 L389.43 373.6 L456.6 373.6 L459.44 424.45 L540.4 424.45" fill="none" stroke="#00ffff" stroke-width="1.25" stroke-linejoin="round"/>
<circle cx="343.48" cy="368.22" r="0.9" fill="#00ffff"/>
<circle cx="365.36" cy="369.57" r="0.9" fill="#00ffff"/>
<circle cx="387.24" cy="369.57" r="0.9" fill="#00ffff"/>
<circle cx="409.12" cy="373.6" r="0.9" fill="#00ffff"/>
<circle cx="431" cy="373.6" r="0.9" fill="#00ffff"/>
<circle cx="452.88" cy="373.6" r="0.9" fill="#00ffff"/>
<circle cx="474.76" cy="424.45" r="0.9" fill="#00ffff"/>
<circle cx="496.64" cy="424.45" r="0.9" fill="#00ffff"/>
<circle cx="518.52" cy="424.45" r="0.9" fill="#00ffff"/>
<path d="M323.79 345.2 L325.98 345.2 L328.16 352.49 L331.23 357.67 L357.48 357.67 L359.89 360.16 L364.05 369.76 L366.45 387.03 L420.06 387.03 L423.34 394.9 L532.74 394.9 L534.93 397.58 L540.4 397.58" fill="none" stroke="#ff00ff" stroke-width="1.25" stroke-linejoin="round"/>
<path d="M343.48 355.47V359.87M341.28 357.67H345.68" stroke="#ff00ff" stroke-width="0.9"/>
<path d="M365.36 376.98V381.38M363.16 379.18H367.56" stroke="#ff00ff" stroke-width="0.9"/>
<path d="M387.24 384.83V389.23M385.04 387.03H389.44" stroke="#ff00ff" stroke-width="0.9"/>
<path d="M409.12 384.83V389.23M406.92 387.03H411.32" stroke="#ff00ff" stroke-width="0.9"/>
<path d="M431 392.7V397.1M428.8 394.9H433.2" stroke="#ff00ff" stroke-width="0.9"/>
<path d="M452.88 392.7V397.1M450.68 394.9H455.08" stroke="#ff00ff" stroke-width="0.9"/>
<path d="M474.76 392.7V397.1M472.56 394.9H476.96" stroke="#ff00ff" stroke-width="0.9"/>
<path d="M496.64 392.7V397.1M494.44 394.9H498.84" stroke="#ff00ff" stroke-width="0.9"/>
<path d="M518.52 392.7V397.1M516.32 394.9H520.72" stroke="#ff00ff" stroke-width="0.9"/>
<path d="M323.79 323.13 L330.13 323.13 L333.2 330.61 L355.08 330.61 L356.61 331.38 L360.55 331.38 L363.83 342.13 L390.52 342.13 L392.71 345.96 L397.09 349.8 L404.74 349.8 L408.24 361.89 L436.47 361.89 L439.31 381.85 L450.69 381.85 L452.44 407.75 L540.4 407.75" fill="none" stroke="#1a1a1a" stroke-width="1.25" stroke-linejoin="round"/>
<rect x="341.58" y="328.71" width="3.8" height="3.8" fill="#000" fill-opacity="0.35" stroke="#1a1a1a" stroke-width="1.05"/>
<rect x="363.46" y="340.23" width="3.8" height="3.8" fill="#000" fill-opacity="0.35" stroke="#1a1a1a" stroke-width="1.05"/>
<rect x="385.34" y="340.23" width="3.8" height="3.8" fill="#000" fill-opacity="0.35" stroke="#1a1a1a" stroke-width="1.05"/>
<rect x="407.22" y="359.99" width="3.8" height="3.8" fill="#000" fill-opacity="0.35" stroke="#1a1a1a" stroke-width="1.05"/>
<rect x="429.1" y="359.99" width="3.8" height="3.8" fill="#000" fill-opacity="0.35" stroke="#1a1a1a" stroke-width="1.05"/>
<rect x="450.98" y="405.85" width="3.8" height="3.8" fill="#000" fill-opacity="0.35" stroke="#1a1a1a" stroke-width="1.05"/>
<rect x="472.86" y="405.85" width="3.8" height="3.8" fill="#000" fill-opacity="0.35" stroke="#1a1a1a" stroke-width="1.05"/>
<rect x="494.74" y="405.85" width="3.8" height="3.8" fill="#000" fill-opacity="0.35" stroke="#1a1a1a" stroke-width="1.05"/>
<rect x="516.62" y="405.85" width="3.8" height="3.8" fill="#000" fill-opacity="0.35" stroke="#1a1a1a" stroke-width="1.05"/>
<path d="M324.01 267.29 L326.19 344.81 L328.82 356.33 L331.01 365.34 L341.29 365.92 L343.48 377.43 L359.89 377.43 L362.08 385.11 L364.27 387.99 L365.14 418.69 L540.4 418.69" fill="none" stroke="#444" stroke-width="0.9" stroke-linejoin="round" stroke-dasharray="0.9 1.3"/>
<path d="M343.48 375.23 L342.71 376.1 L341.57 376.33 L341.94 377.43 L341.57 378.53 L342.71 378.77 L343.48 379.63 L344.25 378.77 L345.39 378.53 L345.02 377.43 L345.39 376.33 L344.25 376.1Z" fill="#111" stroke="#111" stroke-width="0.5"/>
<path d="M365.36 416.49 L364.59 417.36 L363.45 417.59 L363.82 418.69 L363.45 419.79 L364.59 420.02 L365.36 420.89 L366.13 420.02 L367.27 419.79 L366.9 418.69 L367.27 417.59 L366.13 417.36Z" fill="#111" stroke="#111" stroke-width="0.5"/>
<path d="M387.24 416.49 L386.47 417.36 L385.33 417.59 L385.7 418.69 L385.33 419.79 L386.47 420.02 L387.24 420.89 L388.01 420.02 L389.15 419.79 L388.78 418.69 L389.15 417.59 L388.01 417.36Z" fill="#111" stroke="#111" stroke-width="0.5"/>
<path d="M409.12 416.49 L408.35 417.36 L407.21 417.59 L407.58 418.69 L407.21 419.79 L408.35 420.02 L409.12 420.89 L409.89 420.02 L411.03 419.79 L410.66 418.69 L411.03 417.59 L409.89 417.36Z" fill="#111" stroke="#111" stroke-width="0.5"/>
<path d="M431 416.49 L430.23 417.36 L429.09 417.59 L429.46 418.69 L429.09 419.79 L430.23 420.02 L431 420.89 L431.77 420.02 L432.91 419.79 L432.54 418.69 L432.91 417.59 L431.77 417.36Z" fill="#111" stroke="#111" stroke-width="0.5"/>
<path d="M452.88 416.49 L452.11 417.36 L450.97 417.59 L451.34 418.69 L450.97 419.79 L452.11 420.02 L452.88 420.89 L453.65 420.02 L454.79 419.79 L454.42 418.69 L454.79 417.59 L453.65 417.36Z" fill="#111" stroke="#111" stroke-width="0.5"/>
<path d="M474.76 416.49 L473.99 417.36 L472.85 417.59 L473.22 418.69 L472.85 419.79 L473.99 420.02 L474.76 420.89 L475.53 420.02 L476.67 419.79 L476.3 418.69 L476.67 417.59 L475.53 417.36Z" fill="#111" stroke="#111" stroke-width="0.5"/>
<path d="M496.64 416.49 L495.87 417.36 L494.73 417.59 L495.1 418.69 L494.73 419.79 L495.87 420.02 L496.64 420.89 L497.41 420.02 L498.55 419.79 L498.18 418.69 L498.55 417.59 L497.41 417.36Z" fill="#111" stroke="#111" stroke-width="0.5"/>
<path d="M518.52 416.49 L517.75 417.36 L516.61 417.59 L516.98 418.69 L516.61 419.79 L517.75 420.02 L518.52 420.89 L519.29 420.02 L520.43 419.79 L520.06 418.69 L520.43 417.59 L519.29 417.36Z" fill="#111" stroke="#111" stroke-width="0.5"/>
</g>
<rect x="476.6" y="267.7" width="58.3" height="43.4" fill="#fff" stroke="#7f7f7f" stroke-width="0.7"/>
<path d="M478.6 272.9H498.6" stroke="#ff1a1a" stroke-width="1.25"/>
<path d="M488.6 270.6L490.67 274.51L486.53 274.51Z" fill="#ff1a1a" stroke="#ff1a1a" stroke-width="0.7"/>
<text class="lg" x="499.8" y="275.1" font-size="6.0" text-anchor="start">BRPSO</text>
<path d="M478.6 281.2H498.6" stroke="#00ffff" stroke-width="1.25"/>
<text class="lg" x="499.8" y="283.4" font-size="6.0" text-anchor="start">BPSO</text>
<path d="M478.6 289.5H498.6" stroke="#ff00ff" stroke-width="1.25"/>
<path d="M488.6 287.3V291.7M486.4 289.5H490.8" stroke="#ff00ff" stroke-width="0.9"/>
<text class="lg" x="499.8" y="291.7" font-size="6.0" text-anchor="start">NBPSO</text>
<path d="M478.6 297.8H498.6" stroke="#1a1a1a" stroke-width="1.25"/>
<rect x="486.7" y="295.9" width="3.8" height="3.8" fill="#000" fill-opacity="0.35" stroke="#1a1a1a" stroke-width="1.05"/>
<text class="lg" x="499.8" y="300" font-size="6.0" text-anchor="start">LIWBPSO</text>
<path d="M478.6 306.1H498.6" stroke="#444" stroke-width="0.8" stroke-dasharray="0.9 1.3"/>
<path d="M488.6 303.9 L487.83 304.77 L486.69 305 L487.06 306.1 L486.69 307.2 L487.83 307.43 L488.6 308.3 L489.37 307.43 L490.51 307.2 L490.14 306.1 L490.51 305 L489.37 304.77Z" fill="#111" stroke="#111" stroke-width="0.5"/>
<text class="lg" x="499.8" y="308.3" font-size="6.0" text-anchor="start">BGWOPSO</text>
<text class="cap" x="387.7" y="475.8" font-size="12.8" textLength="18.4" lengthAdjust="spacingAndGlyphs">(<tspan font-weight="bold">d</tspan>)</text>
<text class="cap" x="408.4" y="475.8" font-size="12" textLength="52" lengthAdjust="spacingAndGlyphs">Waveform</text>
</svg>
</body></html>
